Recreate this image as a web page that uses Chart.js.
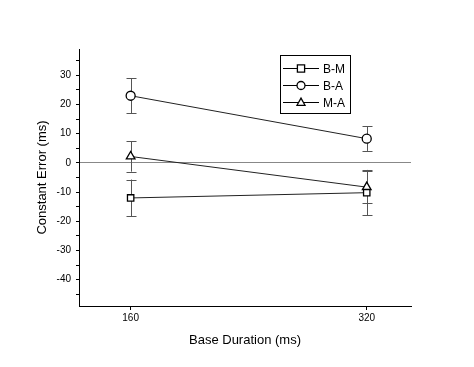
<!DOCTYPE html>
<html>
<head>
<meta charset="utf-8">
<script src="https://cdn.jsdelivr.net/npm/chart.js@4.4.0/dist/chart.umd.min.js"></script>
<style>
  html, body { margin: 0; padding: 0; background: #fff; }
  #wrap { width: 474px; height: 367px; }
</style>
</head>
<body>
<div id="wrap"><canvas id="chart" width="474" height="367"></canvas></div>
<script>
// data
var durations = [160, 320];
var seriesNames = ['B-M', 'B-A', 'M-A'];
var bmValues = [-12, -10.2];
var baValues = [23, 8.3];
var maValues = [2.2, -8.3];
var bmErrors = [6.3, 7.8];
var baErrors = [6, 4.2];
var maErrors = [5.2, 5.5];
var pointShapes = ['rect', 'circle', 'triangle'];
var xTicks = [160, 320];
var yTicks = [-45, -40, -35, -30, -25, -20, -15, -10, -5, 0, 5, 10, 15, 20, 25, 30, 35];

var FONT = '"Liberation Sans", Arial, sans-serif';

function toPoints(values) {
  return durations.map(function (d, i) { return { x: d, y: values[i] }; });
}

var allValues = [bmValues, baValues, maValues];
var allErrors = [bmErrors, baErrors, maErrors];

var datasets = seriesNames.map(function (name, i) {
  return {
    label: name,
    data: toPoints(allValues[i]),
    errors: allErrors[i],
    borderColor: '#222',
    borderWidth: 1,
    pointStyle: pointShapes[i],
    pointRadius: i === 2 ? 5 : 4.5,
    pointBackgroundColor: '#fff',
    pointBorderColor: '#000',
    pointBorderWidth: 1.3,
    fill: false,
    tension: 0
  };
});

// error bars drawn behind the points, from the y scale
var errorBars = {
  id: 'errorBars',
  beforeDatasetsDraw: function (chart) {
    var ctx = chart.ctx;
    var xs = chart.scales.x, ys = chart.scales.y;
    ctx.save();
    ctx.strokeStyle = '#555';
    ctx.lineWidth = 1;
    chart.data.datasets.forEach(function (ds) {
      ds.data.forEach(function (p, j) {
        var x = Math.round(xs.getPixelForValue(p.x)) + 0.5;
        var top = ys.getPixelForValue(p.y + ds.errors[j]);
        var bot = ys.getPixelForValue(p.y - ds.errors[j]);
        ctx.beginPath();
        ctx.moveTo(x, top); ctx.lineTo(x, bot);
        ctx.moveTo(x - 5, Math.round(top) + 0.5); ctx.lineTo(x + 5, Math.round(top) + 0.5);
        ctx.moveTo(x - 5, Math.round(bot) + 0.5); ctx.lineTo(x + 5, Math.round(bot) + 0.5);
        ctx.stroke();
      });
    });
    ctx.restore();
  }
};

function drawMarker(ctx, shape, x, y, r) {
  ctx.beginPath();
  if (shape === 'rect') {
    ctx.rect(x - r * 0.9, y - r * 0.9, r * 1.8, r * 1.8);
  } else if (shape === 'circle') {
    ctx.arc(x, y, r, 0, Math.PI * 2);
  } else {
    ctx.moveTo(x, y - r * 1.1);
    ctx.lineTo(x + r, y + r * 0.7);
    ctx.lineTo(x - r, y + r * 0.7);
    ctx.closePath();
  }
  ctx.fillStyle = '#fff';
  ctx.fill();
  ctx.stroke();
}

// boxed legend with line-marker-line samples
var boxLegend = {
  id: 'boxLegend',
  afterDraw: function (chart) {
    var ctx = chart.ctx;
    var a = chart.chartArea;
    var bx = a.right - 131, by = a.top + 6, bw = 70, bh = 58;
    ctx.save();
    ctx.strokeStyle = '#000';
    ctx.lineWidth = 1;
    ctx.strokeRect(Math.round(bx) + 0.5, Math.round(by) + 0.5, bw, bh);
    ctx.font = '12px ' + FONT;
    ctx.textBaseline = 'middle';
    ctx.fillStyle = '#000';
    chart.data.datasets.forEach(function (ds, i) {
      var y = Math.round(by + 13 + i * 17) + 0.5;
      ctx.lineWidth = 1;
      ctx.beginPath();
      ctx.moveTo(bx + 3, y); ctx.lineTo(bx + 39, y);
      ctx.stroke();
      ctx.lineWidth = 1.3;
      drawMarker(ctx, ds.pointStyle, bx + 21, y, 4);
      ctx.fillStyle = '#000';
      ctx.fillText(ds.label, bx + 43, y + 1);
    });
    ctx.restore();
  }
};

new Chart(document.getElementById('chart'), {
  type: 'line',
  data: { datasets: datasets },
  options: {
    responsive: false,
    animation: false,
    layout: { padding: { left: 30, right: 63, top: 49, bottom: 0 } },
    plugins: {
      legend: { display: false },
      tooltip: { enabled: false }
    },
    scales: {
      x: {
        type: 'linear',
        min: 125,
        max: 350,
        afterBuildTicks: function (scale) {
          scale.ticks = xTicks.map(function (v) { return { value: v }; });
        },
        afterFit: function (scale) { scale.height = 61; },
        border: { display: true, color: '#000', width: 1 },
        grid: { drawOnChartArea: false, tickLength: 4, color: '#000' },
        ticks: { color: '#000', font: { family: FONT, size: 10 }, padding: 2, maxRotation: 0 },
        title: {
          display: true,
          text: 'Base Duration (ms)',
          color: '#000',
          font: { family: FONT, size: 13 },
          padding: { top: 0, bottom: 19 }
        }
      },
      y: {
        type: 'linear',
        min: -49,
        max: 39,
        afterBuildTicks: function (scale) {
          scale.ticks = yTicks.map(function (v) { return { value: v }; });
        },
        afterFit: function (scale) { scale.width = 49; },
        border: { display: true, color: '#000', width: 1 },
        grid: {
          drawOnChartArea: true,
          tickLength: 3,
          tickColor: '#000',
          color: function (c) { return c.tick && c.tick.value === 0 ? '#888' : 'rgba(0,0,0,0)'; }
        },
        ticks: {
          color: '#000',
          font: { family: FONT, size: 10 },
          padding: 5,
          callback: function (v) { return v % 10 === 0 ? String(v) : ''; }
        },
        title: {
          display: true,
          text: 'Constant Error (ms)',
          color: '#000',
          font: { family: FONT, size: 13 },
          padding: { top: 5, bottom: 0 }
        }
      }
    }
  },
  plugins: [errorBars, boxLegend]
});
</script>
</body>
</html>
